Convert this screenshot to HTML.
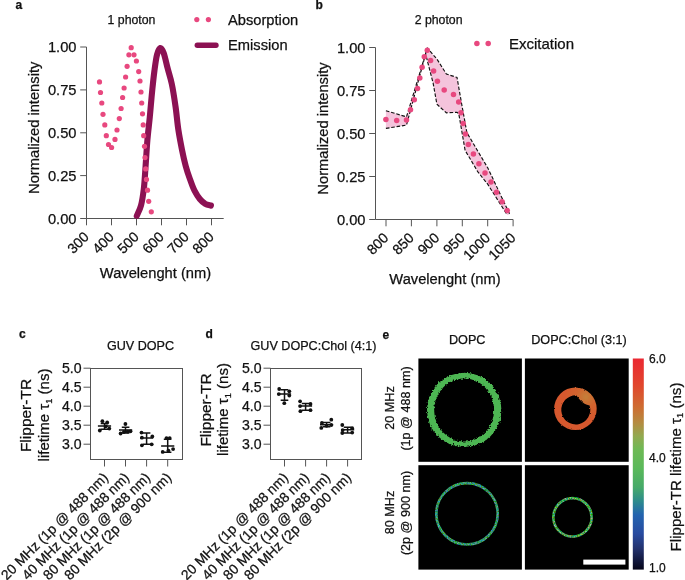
<!DOCTYPE html><html><head><meta charset="utf-8"><title>Figure</title>
<style>html,body{margin:0;padding:0;background:#fff}svg{display:block}text{font-family:"Liberation Sans",Arial,sans-serif;fill:#111;stroke:#111;stroke-width:0.25px}</style></head><body>
<svg width="685" height="580" viewBox="0 0 685 580">
<rect width="685" height="580" fill="#fff"/>
<text x="15.5" y="9" font-size="12" font-weight="bold">a</text>
<text x="315.5" y="9" font-size="12" font-weight="bold">b</text>
<text x="19" y="338" font-size="12" font-weight="bold">c</text>
<text x="205.5" y="338" font-size="12" font-weight="bold">d</text>
<text x="382.6" y="338.6" font-size="12" font-weight="bold">e</text>
<g stroke="#555" stroke-width="1" fill="none">
<path d="M86.5 47 V218.5 H223.7"/>
<path d="M80.2 218.5 H86.5"/>
<path d="M80.2 175.6 H86.5"/>
<path d="M80.2 132.8 H86.5"/>
<path d="M80.2 89.9 H86.5"/>
<path d="M80.2 47.0 H86.5"/>
<path d="M86.5 218.5 v6.8"/>
<path d="M111.5 218.5 v6.8"/>
<path d="M136.5 218.5 v6.8"/>
<path d="M161.5 218.5 v6.8"/>
<path d="M186.5 218.5 v6.8"/>
<path d="M211.5 218.5 v6.8"/>
</g>
<text x="76.5" y="223.5" font-size="14.7" text-anchor="end">0.00</text>
<text x="76.5" y="180.6" font-size="14.7" text-anchor="end">0.25</text>
<text x="76.5" y="137.8" font-size="14.7" text-anchor="end">0.50</text>
<text x="76.5" y="94.9" font-size="14.7" text-anchor="end">0.75</text>
<text x="76.5" y="52.0" font-size="14.7" text-anchor="end">1.00</text>
<text transform="translate(89.9 237.8) rotate(-45)" font-size="14.1" text-anchor="end">300</text>
<text transform="translate(114.9 237.8) rotate(-45)" font-size="14.1" text-anchor="end">400</text>
<text transform="translate(139.9 237.8) rotate(-45)" font-size="14.1" text-anchor="end">500</text>
<text transform="translate(164.9 237.8) rotate(-45)" font-size="14.1" text-anchor="end">600</text>
<text transform="translate(189.9 237.8) rotate(-45)" font-size="14.1" text-anchor="end">700</text>
<text transform="translate(214.9 237.8) rotate(-45)" font-size="14.1" text-anchor="end">800</text>
<text transform="translate(39 127.8) rotate(-90)" font-size="14.7" text-anchor="middle">Normalized intensity</text>
<text x="155.5" y="277.5" font-size="14.7" text-anchor="middle">Wavelenght (nm)</text>
<text x="131.5" y="24" font-size="12.3" text-anchor="middle">1 photon</text>
<path d="M136.8 215.8 C137.5 214.1 139.8 210.0 141.0 205.5 C142.2 201.0 143.0 195.6 143.8 189.0 C144.6 182.4 145.0 174.2 145.6 166.0 C146.2 157.8 146.7 148.2 147.4 140.0 C148.1 131.8 149.0 125.2 149.8 117.0 C150.6 108.8 151.4 98.4 152.2 90.7 C153.0 83.0 153.6 77.0 154.4 71.0 C155.2 65.0 156.0 58.5 157.0 54.7 C158.0 50.9 159.2 48.3 160.3 48.0 C161.4 47.7 162.5 49.7 163.7 53.0 C164.9 56.3 166.2 62.6 167.5 67.8 C168.8 73.0 170.5 77.5 171.8 84.0 C173.2 90.5 174.5 99.3 175.6 107.0 C176.7 114.7 177.3 122.9 178.4 130.0 C179.5 137.1 180.8 143.8 182.0 149.8 C183.2 155.8 184.4 161.1 185.7 166.0 C187.0 170.9 188.4 174.9 189.9 179.0 C191.4 183.1 192.8 187.4 194.5 190.7 C196.2 194.0 198.0 196.8 199.8 199.0 C201.6 201.2 203.5 202.8 205.3 203.9 C207.2 205.0 210.0 205.2 210.9 205.5" fill="none" stroke="#8c1153" stroke-width="6.1" stroke-linecap="round" stroke-linejoin="round"/>
<g fill="#e8487f">
<circle cx="99.5" cy="81.9" r="2.6"/>
<circle cx="100.5" cy="92.5" r="2.6"/>
<circle cx="101.8" cy="103" r="2.6"/>
<circle cx="103" cy="114.3" r="2.6"/>
<circle cx="104.8" cy="124.9" r="2.6"/>
<circle cx="106.3" cy="135.7" r="2.6"/>
<circle cx="108.5" cy="144.5" r="2.6"/>
<circle cx="111.6" cy="147.5" r="2.6"/>
<circle cx="115" cy="139.4" r="2.6"/>
<circle cx="117" cy="130" r="2.6"/>
<circle cx="119.3" cy="118.6" r="2.6"/>
<circle cx="121.1" cy="108.5" r="2.6"/>
<circle cx="122.6" cy="97.5" r="2.6"/>
<circle cx="124.1" cy="88" r="2.6"/>
<circle cx="125.6" cy="77" r="2.6"/>
<circle cx="127.1" cy="66.3" r="2.6"/>
<circle cx="128.9" cy="54.8" r="2.6"/>
<circle cx="131.2" cy="47.7" r="2.6"/>
<circle cx="134" cy="54.8" r="2.6"/>
<circle cx="136.4" cy="61" r="2.6"/>
<circle cx="138.7" cy="71.6" r="2.6"/>
<circle cx="140" cy="81" r="2.6"/>
<circle cx="141" cy="92" r="2.6"/>
<circle cx="141.7" cy="103" r="2.6"/>
<circle cx="142.5" cy="113.8" r="2.6"/>
<circle cx="143.2" cy="124.9" r="2.6"/>
<circle cx="143.7" cy="135.7" r="2.6"/>
<circle cx="144.5" cy="146.3" r="2.6"/>
<circle cx="145" cy="157.6" r="2.6"/>
<circle cx="145.7" cy="168.9" r="2.6"/>
<circle cx="146.5" cy="179.4" r="2.6"/>
<circle cx="147.5" cy="190.2" r="2.6"/>
<circle cx="148.7" cy="201.3" r="2.6"/>
<circle cx="151.3" cy="211.8" r="2.6"/>
</g>
<circle cx="196.8" cy="19.6" r="2.6" fill="#e8487f"/><circle cx="208.4" cy="19.6" r="2.6" fill="#e8487f"/>
<path d="M197.3 45.2 H216" stroke="#8c1153" stroke-width="5.4" stroke-linecap="round"/>
<text x="228" y="25" font-size="14.7">Absorption</text>
<text x="228" y="50.3" font-size="14.7">Emission</text>
<g stroke="#555" stroke-width="1" fill="none">
<path d="M375.5 47.5 V219.5 H513.1"/>
<path d="M369.2 219.5 H375.5"/>
<path d="M369.2 176.5 H375.5"/>
<path d="M369.2 133.5 H375.5"/>
<path d="M369.2 90.5 H375.5"/>
<path d="M369.2 47.5 H375.5"/>
<path d="M386.0 219.5 v6.8"/>
<path d="M411.4 219.5 v6.8"/>
<path d="M436.9 219.5 v6.8"/>
<path d="M462.3 219.5 v6.8"/>
<path d="M487.7 219.5 v6.8"/>
<path d="M513.1 219.5 v6.8"/>
</g>
<text x="365.5" y="224.5" font-size="14.7" text-anchor="end">0.00</text>
<text x="365.5" y="181.5" font-size="14.7" text-anchor="end">0.25</text>
<text x="365.5" y="138.5" font-size="14.7" text-anchor="end">0.50</text>
<text x="365.5" y="95.5" font-size="14.7" text-anchor="end">0.75</text>
<text x="365.5" y="52.5" font-size="14.7" text-anchor="end">1.00</text>
<text transform="translate(389.4 238.8) rotate(-45)" font-size="14.1" text-anchor="end">800</text>
<text transform="translate(414.8 238.8) rotate(-45)" font-size="14.1" text-anchor="end">850</text>
<text transform="translate(440.2 238.8) rotate(-45)" font-size="14.1" text-anchor="end">900</text>
<text transform="translate(465.7 238.8) rotate(-45)" font-size="14.1" text-anchor="end">950</text>
<text transform="translate(491.1 238.8) rotate(-45)" font-size="14.1" text-anchor="end">1000</text>
<text transform="translate(516.5 238.8) rotate(-45)" font-size="14.1" text-anchor="end">1050</text>
<text transform="translate(328 128.5) rotate(-90)" font-size="14.7" text-anchor="middle">Normalized intensity</text>
<text x="445" y="283.7" font-size="14.7" text-anchor="middle">Wavelenght (nm)</text>
<text x="438.6" y="24" font-size="12.3" text-anchor="middle">2 photon</text>
<path d="M385.9 110.8 L406.5 116.8 L427.3 48.2 L436.9 59.0 L446.4 74.1 L457.0 77.4 L461.4 102.5 L466.9 132.7 L487.7 167.8 L509.8 214.3 L507.3 215.0 L487.7 184.2 L477.7 171.6 L465.1 150.3 L458.8 113.8 L457.0 112.3 L446.4 112.8 L436.9 104.3 L433.1 82.9 L425.6 54.0 L406.5 125.1 L385.9 128.4 Z" fill="#f4c4dc" stroke="none"/>
<path d="M385.9 110.8 L406.5 116.8 L427.3 48.2 L436.9 59.0 L446.4 74.1 L457.0 77.4 L461.4 102.5 L466.9 132.7 L487.7 167.8 L509.8 214.3" fill="none" stroke="#111" stroke-width="1.15" stroke-dasharray="3.6 1.8"/>
<path d="M385.9 128.4 L406.5 125.1 L425.6 54.0 L433.1 82.9 L436.9 104.3 L446.4 112.8 L457.0 112.3 L458.8 113.8 L465.1 150.3 L477.7 171.6 L487.7 184.2 L507.3 215.0" fill="none" stroke="#111" stroke-width="1.15" stroke-dasharray="3.6 1.8"/>
<g fill="#e8487f">
<circle cx="385.9" cy="119.6" r="2.75"/>
<circle cx="396.7" cy="120.6" r="2.75"/>
<circle cx="406.5" cy="120.1" r="2.75"/>
<circle cx="410.5" cy="109.8" r="2.75"/>
<circle cx="414.3" cy="99.7" r="2.75"/>
<circle cx="417.5" cy="88.4" r="2.75"/>
<circle cx="419.8" cy="78.1" r="2.75"/>
<circle cx="422.1" cy="67.3" r="2.75"/>
<circle cx="424.3" cy="56.8" r="2.75"/>
<circle cx="427.3" cy="50.3" r="2.75"/>
<circle cx="430.6" cy="60.6" r="2.75"/>
<circle cx="433.6" cy="71.1" r="2.75"/>
<circle cx="437.4" cy="81.2" r="2.75"/>
<circle cx="444.2" cy="89.9" r="2.75"/>
<circle cx="453.5" cy="94.5" r="2.75"/>
<circle cx="458.7" cy="102" r="2.75"/>
<circle cx="461" cy="112.8" r="2.75"/>
<circle cx="463.2" cy="123.4" r="2.75"/>
<circle cx="465.5" cy="133.9" r="2.75"/>
<circle cx="468.3" cy="144.5" r="2.75"/>
<circle cx="473.4" cy="154" r="2.75"/>
<circle cx="478.9" cy="163.8" r="2.75"/>
<circle cx="485" cy="172.9" r="2.75"/>
<circle cx="491" cy="181.9" r="2.75"/>
<circle cx="496.5" cy="192.2" r="2.75"/>
<circle cx="502.1" cy="201.8" r="2.75"/>
<circle cx="507.3" cy="210.6" r="2.75"/>
<circle cx="476.9" cy="43.5" r="2.75"/><circle cx="488.2" cy="43.5" r="2.75"/>
</g>
<text x="509" y="48.5" font-size="15">Excitation</text>
<rect x="90.5" y="368.5" width="92.0" height="91.0" fill="none" stroke="#555" stroke-width="1"/>
<g stroke="#555" stroke-width="1">
<path d="M83.5 444.2 H90.5"/>
<path d="M83.5 425.2 H90.5"/>
<path d="M83.5 406.2 H90.5"/>
<path d="M83.5 387.2 H90.5"/>
<path d="M83.5 368.2 H90.5"/>
<path d="M104.5 459.5 v7"/>
<path d="M125.5 459.5 v7"/>
<path d="M146.6 459.5 v7"/>
<path d="M167.7 459.5 v7"/>
</g>
<text x="81.5" y="449.2" font-size="14.1" text-anchor="end">3.0</text>
<text x="81.5" y="430.2" font-size="14.1" text-anchor="end">3.5</text>
<text x="81.5" y="411.2" font-size="14.1" text-anchor="end">4.0</text>
<text x="81.5" y="392.2" font-size="14.1" text-anchor="end">4.5</text>
<text x="81.5" y="373.2" font-size="14.1" text-anchor="end">5.0</text>
<text x="140.5" y="350" font-size="12.6" text-anchor="middle">GUV DOPC</text>
<text transform="translate(31.2 415.5) rotate(-90)" font-size="15.5" text-anchor="middle">Flipper-TR</text>
<text transform="translate(49.4 415.0) rotate(-90)" font-size="15" text-anchor="middle">lifetime τ<tspan font-size="9.3" dy="2.6">1</tspan><tspan dy="-2.6"> (ns)</tspan></text>
<text transform="translate(109.0 478.5) rotate(-45)" font-size="13.9" text-anchor="end">20 MHz (1p @ 488 nm)</text>
<text transform="translate(130.1 478.5) rotate(-45)" font-size="13.9" text-anchor="end">40 MHz (1p @ 488 nm)</text>
<text transform="translate(151.1 478.5) rotate(-45)" font-size="13.9" text-anchor="end">80 MHz (1p @ 488 nm)</text>
<text transform="translate(172.2 478.5) rotate(-45)" font-size="13.9" text-anchor="end">80 MHz (2p @ 900 nm)</text>
<g stroke="#111" stroke-width="1.5" fill="#111">
<path d="M97.9 426 h13.2 M104.5 423.5 V429.2 M100.7 423.5 h7.6 M100.7 429.2 h7.6" fill="none"/>
<circle cx="102.4" cy="421.2" r="1.9" stroke="none"/>
<circle cx="107.2" cy="422.5" r="1.9" stroke="none"/>
<circle cx="105.8" cy="426.3" r="1.9" stroke="none"/>
<circle cx="109.3" cy="428.6" r="1.9" stroke="none"/>
<circle cx="99.8" cy="430.5" r="1.9" stroke="none"/>
<path d="M119.0 430.1 h13.2 M125.5 427.3 V433 M121.8 427.3 h7.6 M121.8 433 h7.6" fill="none"/>
<circle cx="125.4" cy="424" r="1.9" stroke="none"/>
<circle cx="120.6" cy="433.5" r="1.9" stroke="none"/>
<circle cx="123.9" cy="432" r="1.9" stroke="none"/>
<circle cx="127.6" cy="431.6" r="1.9" stroke="none"/>
<circle cx="130.5" cy="431.3" r="1.9" stroke="none"/>
<path d="M140.0 438.1 h13.2 M146.6 433 V444.3 M142.8 433 h7.6 M142.8 444.3 h7.6" fill="none"/>
<circle cx="141.5" cy="432.6" r="1.9" stroke="none"/>
<circle cx="152.3" cy="436.4" r="1.9" stroke="none"/>
<circle cx="141.9" cy="437.7" r="1.9" stroke="none"/>
<circle cx="151.7" cy="444.3" r="1.9" stroke="none"/>
<circle cx="141.9" cy="445.3" r="1.9" stroke="none"/>
<path d="M161.1 445.9 h13.2 M167.7 439.2 V452.3 M163.8 439.2 h7.6 M163.8 452.3 h7.6" fill="none"/>
<circle cx="166.5" cy="438.1" r="1.9" stroke="none"/>
<circle cx="169.7" cy="438.1" r="1.9" stroke="none"/>
<circle cx="173.1" cy="449.1" r="1.9" stroke="none"/>
<circle cx="168.4" cy="450.6" r="1.9" stroke="none"/>
<circle cx="162.7" cy="451.9" r="1.9" stroke="none"/>
</g>
<rect x="270.5" y="368.5" width="91.0" height="91.0" fill="none" stroke="#555" stroke-width="1"/>
<g stroke="#555" stroke-width="1">
<path d="M263.5 444.2 H270.5"/>
<path d="M263.5 425.2 H270.5"/>
<path d="M263.5 406.2 H270.5"/>
<path d="M263.5 387.2 H270.5"/>
<path d="M263.5 368.2 H270.5"/>
<path d="M284.5 459.5 v7"/>
<path d="M305.6 459.5 v7"/>
<path d="M326.6 459.5 v7"/>
<path d="M347.6 459.5 v7"/>
</g>
<text x="261.5" y="449.2" font-size="14.1" text-anchor="end">3.0</text>
<text x="261.5" y="430.2" font-size="14.1" text-anchor="end">3.5</text>
<text x="261.5" y="411.2" font-size="14.1" text-anchor="end">4.0</text>
<text x="261.5" y="392.2" font-size="14.1" text-anchor="end">4.5</text>
<text x="261.5" y="373.2" font-size="14.1" text-anchor="end">5.0</text>
<text x="313.5" y="350" font-size="12.6" text-anchor="middle">GUV DOPC:Chol (4:1)</text>
<text transform="translate(210.5 410) rotate(-90)" font-size="15.5" text-anchor="middle">Flipper-TR</text>
<text transform="translate(228.4 409.5) rotate(-90)" font-size="15" text-anchor="middle">lifetime τ<tspan font-size="9.3" dy="2.6">1</tspan><tspan dy="-2.6"> (ns)</tspan></text>
<text transform="translate(289.0 478.5) rotate(-45)" font-size="13.9" text-anchor="end">20 MHz (1p @ 488 nm)</text>
<text transform="translate(310.1 478.5) rotate(-45)" font-size="13.9" text-anchor="end">40 MHz (1p @ 488 nm)</text>
<text transform="translate(331.1 478.5) rotate(-45)" font-size="13.9" text-anchor="end">80 MHz (1p @ 488 nm)</text>
<text transform="translate(352.1 478.5) rotate(-45)" font-size="13.9" text-anchor="end">80 MHz (2p @ 900 nm)</text>
<g stroke="#111" stroke-width="1.5" fill="#111">
<path d="M277.9 394.1 h13.2 M284.5 389.8 V400.2 M280.7 389.8 h7.6 M280.7 400.2 h7.6" fill="none"/>
<circle cx="279.2" cy="389" r="1.9" stroke="none"/>
<circle cx="289.3" cy="391.3" r="1.9" stroke="none"/>
<circle cx="278.8" cy="394.1" r="1.9" stroke="none"/>
<circle cx="289.3" cy="395.6" r="1.9" stroke="none"/>
<circle cx="284.3" cy="403.2" r="1.9" stroke="none"/>
<path d="M298.9 406.1 h13.2 M305.6 403.6 V410.2 M301.8 403.6 h7.6 M301.8 410.2 h7.6" fill="none"/>
<circle cx="300.1" cy="401.3" r="1.9" stroke="none"/>
<circle cx="310.5" cy="404" r="1.9" stroke="none"/>
<circle cx="300.1" cy="406.1" r="1.9" stroke="none"/>
<circle cx="310.5" cy="410.2" r="1.9" stroke="none"/>
<circle cx="300.4" cy="411.2" r="1.9" stroke="none"/>
<path d="M320.0 424.8 h13.2 M326.6 422.5 V426.7 M322.8 422.5 h7.6 M322.8 426.7 h7.6" fill="none"/>
<circle cx="331.3" cy="419.7" r="1.9" stroke="none"/>
<circle cx="321.9" cy="422.9" r="1.9" stroke="none"/>
<circle cx="331.3" cy="425" r="1.9" stroke="none"/>
<circle cx="326.6" cy="425.8" r="1.9" stroke="none"/>
<circle cx="321.3" cy="427.9" r="1.9" stroke="none"/>
<path d="M341.0 429.7 h13.2 M347.6 427.3 V433 M343.8 427.3 h7.6 M343.8 433 h7.6" fill="none"/>
<circle cx="342.3" cy="425" r="1.9" stroke="none"/>
<circle cx="352.2" cy="428.2" r="1.9" stroke="none"/>
<circle cx="342.7" cy="430.1" r="1.9" stroke="none"/>
<circle cx="352.2" cy="432.6" r="1.9" stroke="none"/>
<circle cx="342.3" cy="433" r="1.9" stroke="none"/>
</g>
<defs><linearGradient id="cb" x1="0" y1="0" x2="0" y2="1">
<stop offset="0" stop-color="#eb2832"/>
<stop offset="0.126" stop-color="#e1462d"/>
<stop offset="0.234" stop-color="#cd6e32"/>
<stop offset="0.306" stop-color="#b48c41"/>
<stop offset="0.37" stop-color="#91aa50"/>
<stop offset="0.43" stop-color="#6eb955"/>
<stop offset="0.52" stop-color="#5ab95a"/>
<stop offset="0.61" stop-color="#46aa69"/>
<stop offset="0.675" stop-color="#2d8c8c"/>
<stop offset="0.74" stop-color="#2364af"/>
<stop offset="0.83" stop-color="#284ba0"/>
<stop offset="0.9" stop-color="#23326e"/>
<stop offset="0.965" stop-color="#0f1437"/>
<stop offset="1" stop-color="#050519"/>
</linearGradient></defs>
<rect x="418.4" y="358.5" width="103.5" height="103.3" fill="#000"/>
<rect x="524.9" y="358.5" width="103.8" height="103.3" fill="#000"/>
<rect x="418.4" y="465.2" width="103.5" height="104.4" fill="#000"/>
<rect x="524.9" y="465.2" width="103.8" height="104.4" fill="#000"/>
<rect x="632.8" y="358.5" width="11" height="211.1" fill="url(#cb)"/>
<filter id="rough" x="-10%" y="-10%" width="120%" height="120%"><feTurbulence type="fractalNoise" baseFrequency="0.6" numOctaves="2" seed="3" result="n"/><feDisplacementMap in="SourceGraphic" in2="n" scale="4" xChannelSelector="R" yChannelSelector="G"/></filter>
<filter id="speck" x="-10%" y="-10%" width="120%" height="120%" color-interpolation-filters="sRGB"><feTurbulence type="fractalNoise" baseFrequency="0.7" numOctaves="2" seed="7" result="n"/><feColorMatrix in="n" type="matrix" values="0.8 0 0 0 -0.18  0 0.6 0 0 0.30  0 0 1.6 0 -0.38  0 0 0 0 1" result="c"/><feComposite in="c" in2="SourceGraphic" operator="in"/></filter>
<filter id="rough2" x="-10%" y="-10%" width="120%" height="120%"><feTurbulence type="fractalNoise" baseFrequency="0.6" numOctaves="2" seed="5" result="n"/><feDisplacementMap in="SourceGraphic" in2="n" scale="2" xChannelSelector="R" yChannelSelector="G"/></filter>
<radialGradient id="r2g" gradientUnits="userSpaceOnUse" cx="586" cy="397" r="22"><stop offset="0" stop-color="#c4803a"/><stop offset="0.45" stop-color="#d2642e"/><stop offset="1" stop-color="#d6582e"/></radialGradient>
<g filter="url(#rough)"><path fill-rule="evenodd" fill="#4db652" d="M427 409.9 a37.2 37.2 0 1 0 74.4 0 a37.2 37.2 0 1 0 -74.4 0 Z M434.1 410 a30 31.6 0 1 0 60 0 a30 31.6 0 1 0 -60 0 Z"/></g>
<g filter="url(#rough2)"><circle cx="575.4" cy="408.8" r="21.3" fill="url(#r2g)"/><path d="M576.2 395.3 A14.5 14.6 0 1 0 589.6 405.5 C585 404.8 581 402 576.2 395.3 Z" fill="#000"/></g>
<g filter="url(#speck)"><circle cx="467" cy="513.8" r="30.7" fill="none" stroke="#38a878" stroke-width="2.7"/></g>
<filter id="speck2" x="-10%" y="-10%" width="120%" height="120%" color-interpolation-filters="sRGB"><feTurbulence type="fractalNoise" baseFrequency="0.7" numOctaves="2" seed="11" result="n"/><feColorMatrix in="n" type="matrix" values="1.4 0 0 0 -0.4  0 0.6 0 0 0.36  0 0 1.4 0 -0.36  0 0 0 0 1" result="c"/><feComposite in="c" in2="SourceGraphic" operator="in"/></filter>
<g filter="url(#speck2)"><circle cx="572.5" cy="517.3" r="19.2" fill="none" stroke="#4cb070" stroke-width="2.7"/></g>
<rect x="583.3" y="559.6" width="42.1" height="5" fill="#fff"/>
<text x="467.2" y="343.6" font-size="12.65" text-anchor="middle">DOPC</text>
<text x="579" y="343.6" font-size="12.65" text-anchor="middle">DOPC:Chol (3:1)</text>
<text transform="translate(394.4 408) rotate(-90)" font-size="12.6" text-anchor="middle">20 MHz</text>
<text transform="translate(409.6 408.5) rotate(-90)" font-size="12.6" text-anchor="middle">(1p @ 488 nm)</text>
<text transform="translate(394.4 512.5) rotate(-90)" font-size="12.6" text-anchor="middle">80 MHz</text>
<text transform="translate(409.6 513) rotate(-90)" font-size="12.6" text-anchor="middle">(2p @ 900 nm)</text>
<text x="649" y="363.4" font-size="12">6.0</text>
<text x="649" y="462.3" font-size="12">4.0</text>
<text x="649" y="572" font-size="12">1.0</text>
<text transform="translate(680.7 467) rotate(-90)" font-size="15.1" text-anchor="middle">Flipper-TR lifetime τ<tspan font-size="9.3" dy="2.6">1</tspan><tspan dy="-2.6"> (ns)</tspan></text>
</svg></body></html>
